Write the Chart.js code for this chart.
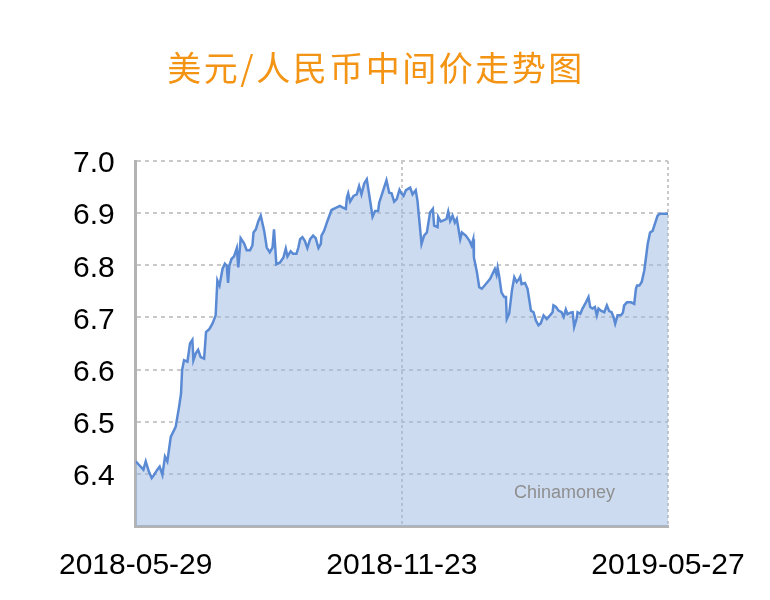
<!DOCTYPE html>
<html lang="zh">
<head>
    <meta charset="UTF-8">
    <title>美元/人民币中间价走势图</title>
    <script src="https://cdn.jsdelivr.net/npm/chart.js"></script>
    <style>
        body { margin: 0; background: #fff; }
        #wrap { width: 770px; height: 600px; }
    </style>
</head>
<body>
<div id="wrap"><canvas id="myChart" width="770" height="600"></canvas></div>
<script>
    const titleText = '美元/人民币中间价走势图';
    const dateLabels = ['2018-05-29', '2018-11-23', '2019-05-27'];

    // position of each reading on the trading-day axis (0 .. 249)
    const dayIndex = [
        0, 1.6, 3.6, 4.7, 6.2, 7.5, 8.6, 10.1, 11.2, 12.5, 13.7, 14.8, 16.4, 18.7, 20.3, 21.2, 21.7, 22.6, 24.2, 25.4,
        26.5, 27.0, 28.1, 29.2, 30.4, 32.0, 32.9, 34.5, 35.9, 37.4, 38.2, 39.2, 40.6, 41.7, 42.6, 43.2, 43.8, 44.8, 46.0, 47.3,
        48.0, 49.1, 50.7, 51.9, 53.5, 54.6, 55.1, 56.2, 57.4, 58.5, 60.1, 61.3, 62.7, 64.0, 64.7, 65.8, 67.4, 69.1, 70.2, 71.0,
        72.5, 73.6, 75.2, 76.1, 76.9, 78.0, 79.1, 80.3, 81.6, 83.0, 84.2, 85.5, 86.6, 86.9, 88.1, 89.7, 91.6, 93.6, 95.5, 96.7,
        98.3, 98.8, 99.4, 100.3, 101.9, 103.4, 104.5, 105.6, 106.9, 108.1, 109.2, 110.8, 112.0, 113.4, 113.9, 115.4, 117.3, 118.6, 119.7, 120.9,
        122.1, 123.4, 124.3, 125.3, 126.4, 128.4, 129.5, 131.0, 131.8, 133.7, 134.9, 136.2, 137.7, 139.0, 139.6, 141.2, 141.5, 142.7, 144.0, 145.4,
        146.2, 147.1, 148.2, 149.3, 150.2, 151.8, 152.6, 154.4, 156.0, 157.1, 157.9, 158.2, 159.6, 160.7, 161.9, 163.8, 165.8, 168.0, 168.8, 169.3,
        170.0, 171.1, 172.4, 173.2, 173.6, 174.7, 176.0, 177.1, 178.2, 179.4, 179.9, 180.5, 182.1, 183.3, 184.9, 186.1, 187.2, 188.4, 189.5, 190.8,
        192.3, 193.8, 195.0, 195.4, 196.6, 197.8, 199.2, 200.2, 201.2, 202.0, 203.3, 204.4, 205.1, 206.2, 206.7, 208.0, 209.0, 210.6, 211.8, 212.6,
        213.7, 214.8, 215.7, 216.5, 217.6, 219.2, 220.4, 221.5, 222.6, 223.5, 224.3, 225.4, 227.0, 227.9, 228.5, 229.8, 231.7, 233.2, 234.0, 234.5,
        235.6, 236.7, 237.9, 238.7, 239.5, 240.6, 241.8, 242.9, 244.1, 245.2, 247.1, 249.0
    ];

    // USD/CNY central parity
    const rates = [
        6.424, 6.417, 6.408, 6.424, 6.404, 6.392, 6.398, 6.408, 6.414, 6.398, 6.433, 6.424, 6.471, 6.490, 6.529, 6.554, 6.599, 6.618, 6.615, 6.650,
        6.657, 6.618, 6.631, 6.638, 6.624, 6.621, 6.672, 6.678, 6.688, 6.704, 6.771, 6.761, 6.793, 6.803, 6.799, 6.766, 6.799, 6.812, 6.817, 6.833,
        6.796, 6.852, 6.842, 6.829, 6.829, 6.838, 6.863, 6.869, 6.885, 6.895, 6.866, 6.834, 6.825, 6.834, 6.869, 6.802, 6.805, 6.815, 6.832, 6.817,
        6.827, 6.822, 6.822, 6.834, 6.850, 6.854, 6.847, 6.833, 6.850, 6.857, 6.852, 6.833, 6.841, 6.857, 6.866, 6.885, 6.906, 6.910, 6.914, 6.911,
        6.908, 6.930, 6.938, 6.922, 6.933, 6.936, 6.952, 6.936, 6.957, 6.965, 6.936, 6.893, 6.904, 6.904, 6.920, 6.939, 6.963, 6.939, 6.938, 6.922,
        6.927, 6.945, 6.938, 6.933, 6.944, 6.949, 6.936, 6.944, 6.924, 6.841, 6.857, 6.863, 6.901, 6.908, 6.876, 6.873, 6.893, 6.884, 6.886, 6.889,
        6.903, 6.885, 6.895, 6.882, 6.889, 6.850, 6.863, 6.857, 6.848, 6.838, 6.850, 6.815, 6.787, 6.758, 6.755, 6.764, 6.774, 6.793, 6.782, 6.795,
        6.780, 6.748, 6.739, 6.739, 6.697, 6.707, 6.752, 6.777, 6.768, 6.774, 6.778, 6.764, 6.766, 6.755, 6.713, 6.710, 6.694, 6.685, 6.689, 6.704,
        6.697, 6.704, 6.710, 6.723, 6.720, 6.713, 6.710, 6.701, 6.715, 6.706, 6.709, 6.710, 6.682, 6.697, 6.710, 6.707, 6.717, 6.729, 6.739, 6.720,
        6.717, 6.720, 6.704, 6.717, 6.713, 6.710, 6.723, 6.712, 6.710, 6.701, 6.688, 6.704, 6.704, 6.709, 6.723, 6.729, 6.729, 6.726, 6.755, 6.761,
        6.761, 6.768, 6.790, 6.815, 6.841, 6.863, 6.866, 6.880, 6.895, 6.899, 6.899, 6.899
    ];

    const points = dayIndex.map((d, i) => ({ x: d, y: rates[i] }));
    const lastDay = dayIndex[dayIndex.length - 1];

    // title + watermark drawn on top
    const overlayText = {
        id: 'overlayText',
        afterDraw(chart) {
            const c = chart.ctx;
            const area = chart.chartArea;
            c.save();
            c.font = '34px "Noto Sans CJK SC"';
            c.fillStyle = '#f39414';
            c.textAlign = 'center';
            c.textBaseline = 'middle';
            c.letterSpacing = '2.5px';
            c.fillText(titleText, 376, 68);
            c.letterSpacing = '0px';
            c.font = '18px "Liberation Sans", Arial';
            c.fillStyle = '#8f8f8f';
            c.textAlign = 'left';
            c.textBaseline = 'alphabetic';
            c.fillText('Chinamoney', area.right - 154, area.bottom - 28);
            c.restore();
        }
    };

    new Chart(document.getElementById('myChart'), {
        type: 'line',
        data: {
            datasets: [{
                data: points,
                borderColor: '#5a8ad4',
                borderWidth: 2.5,
                backgroundColor: 'rgba(155, 183, 227, 0.5)',
                fill: 'start',
                pointRadius: 0,
                tension: 0
            }]
        },
        options: {
            responsive: false,
            animation: false,
            layout: { padding: { left: 52, right: 102, top: 161, bottom: -6 } },
            plugins: {
                legend: { display: false },
                title: { display: false },
                tooltip: { enabled: false }
            },
            scales: {
                x: {
                    type: 'linear',
                    min: 0,
                    max: lastDay,
                    afterBuildTicks: (scale) => {
                        scale.ticks = [0, lastDay / 2, lastDay].map(v => ({ value: v }));
                    },
                    ticks: {
                        callback: (v, i) => dateLabels[i],
                        autoSkip: false,
                        maxRotation: 0,
                        padding: 22,
                        color: '#000',
                        font: { family: '"Liberation Sans", Arial', size: 30 }
                    },
                    grid: {
                        drawTicks: false,
                        color: (ctx) => ctx.index === 0 ? 'rgba(0,0,0,0)' : '#c9c9c9',
                        lineWidth: 2
                    },
                    border: { display: true, color: '#b3b3b3', width: 3, dash: [3, 3] }
                },
                y: {
                    min: 6.3,
                    max: 7.0,
                    ticks: {
                        stepSize: 0.1,
                        callback: (v) => v < 6.35 ? '' : v.toFixed(1),
                        padding: 21,
                        labelOffset: 3,
                        color: '#000',
                        font: { family: '"Liberation Sans", Arial', size: 30 }
                    },
                    grid: {
                        drawTicks: false,
                        color: '#c9c9c9',
                        lineWidth: 2
                    },
                    border: { display: true, color: '#b3b3b3', width: 3, dash: [4, 4] }
                }
            }
        },
        plugins: [overlayText]
    });
</script>
</body>
</html>
